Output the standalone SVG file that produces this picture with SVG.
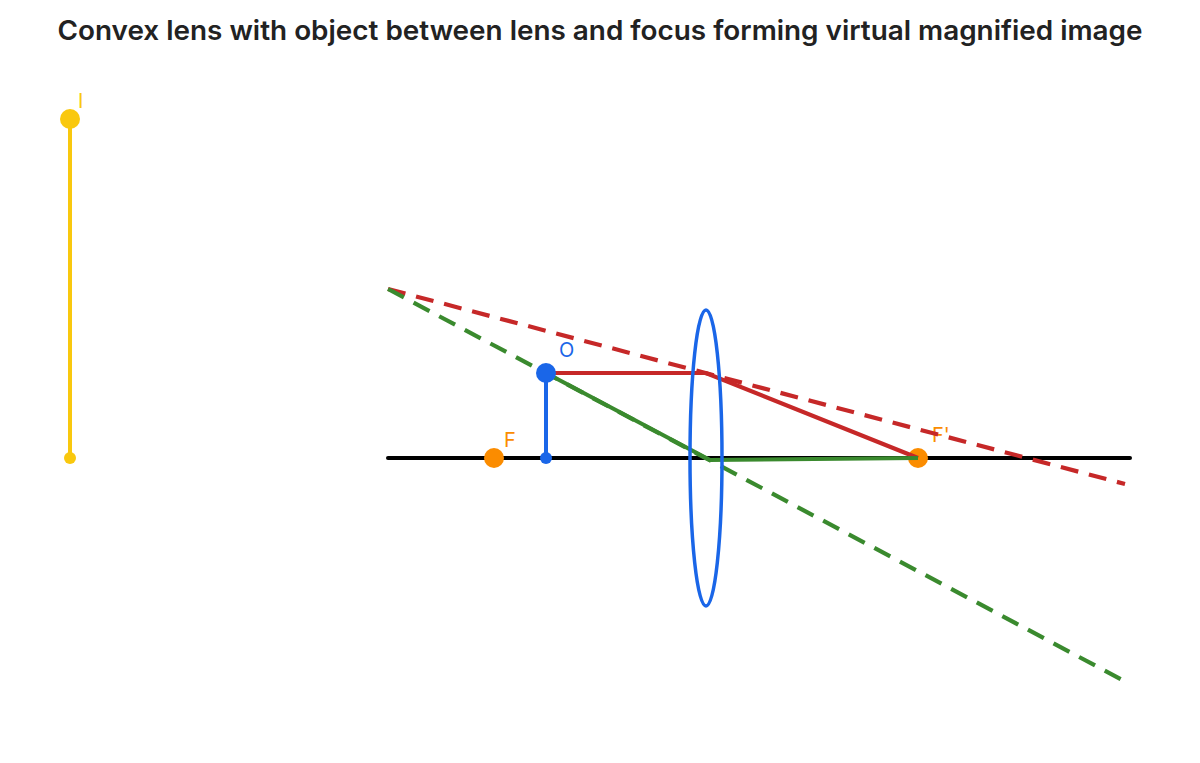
<svg xmlns="http://www.w3.org/2000/svg" width="1200" height="763" viewBox="0 0 1200 763">
<style>
.title{font-family:Inter,"Liberation Sans",sans-serif;font-weight:600;font-size:27.5px;fill:#222}
.lbl{font-family:Inter,"Liberation Sans",sans-serif;font-size:20px}
.ray{stroke-width:4.2;fill:none;stroke-linecap:butt}
.dash{stroke-dasharray:18 11}
</style>
<rect width="1200" height="763" fill="#fff"/>
<text class="title" x="600" y="40" text-anchor="middle" textLength="1085" lengthAdjust="spacingAndGlyphs">Convex lens with object between lens and focus forming virtual magnified image</text>
<g id="axis"><line x1="388" y1="458" x2="1130" y2="458" stroke="#000" stroke-width="4" stroke-linecap="round"/></g>
<g id="focus-F"><circle cx="494" cy="458" r="10" fill="#fb8c00"/><text class="lbl" x="504" y="447" fill="#fb8c00">F</text></g>
<g id="focus-F2"><circle cx="918" cy="458" r="10" fill="#fb8c00"/><text class="lbl" x="932" y="442" fill="#fb8c00">F'</text></g>
<g id="connectors">
<line class="ray dash" x1="388" y1="289" x2="1125" y2="484" stroke="#c62828"/>
<line class="ray dash" x1="388" y1="289" x2="1128" y2="683" stroke="#3a8a2e"/>
<polyline class="ray" points="546,373 706,373 918,458" stroke="#c62828"/>
<polyline class="ray" points="546,373 710,460 918,458" stroke="#3a8a2e"/>
</g>
<g id="lens"><ellipse cx="706" cy="458" rx="16" ry="148" fill="none" stroke="#1a66e8" stroke-width="3.5"/></g>
<g id="object"><line x1="546" y1="458" x2="546" y2="373" stroke="#1a66e8" stroke-width="4"/><circle cx="546" cy="458" r="6" fill="#1a66e8"/><circle cx="546" cy="373" r="10" fill="#1a66e8"/><text class="lbl" x="559" y="357" fill="#1a66e8">O</text></g>
<g id="image"><line x1="70" y1="458" x2="70" y2="119" stroke="#f9c80e" stroke-width="4"/><circle cx="70" cy="458" r="6" fill="#f9c80e"/><circle cx="70" cy="119" r="10" fill="#f9c80e"/><text class="lbl" x="78" y="108" fill="#f9c80e">I</text></g>
</svg>
